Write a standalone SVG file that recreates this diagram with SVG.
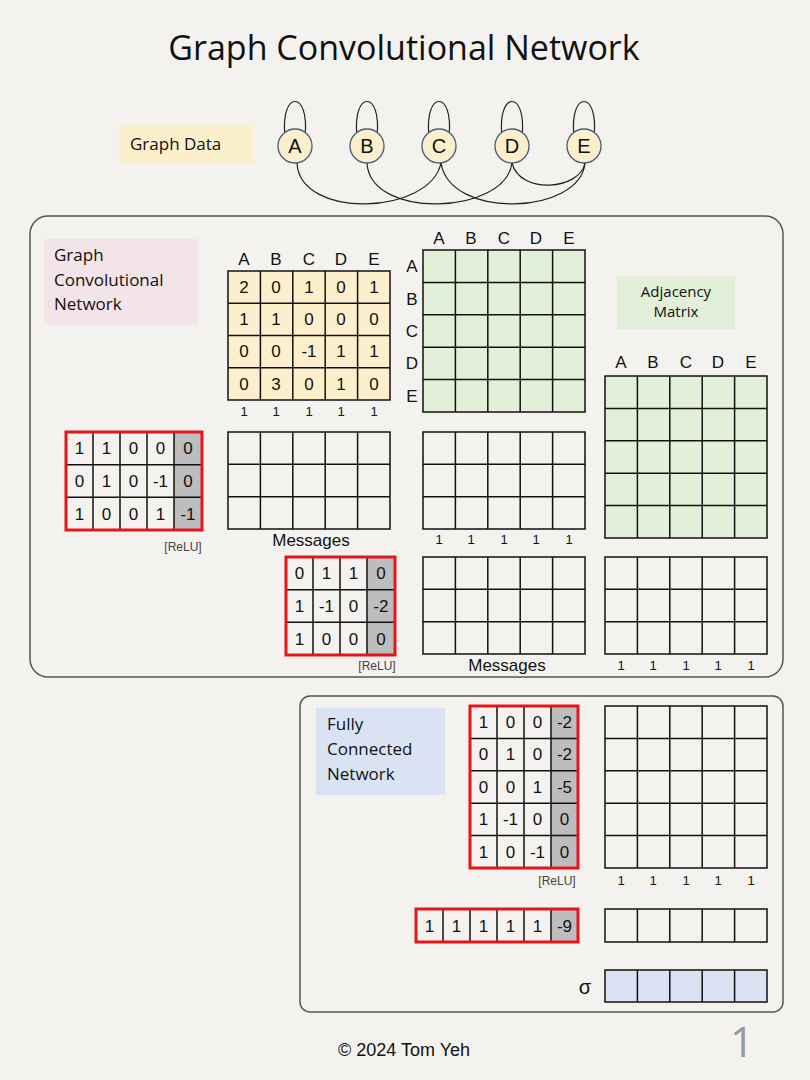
<svg xmlns="http://www.w3.org/2000/svg" width="810" height="1080" viewBox="0 0 810 1080">
<defs><style>
text{font-family:"Liberation Sans",Arial,sans-serif;fill:#111;text-anchor:middle}
.hand{font-family:"Open Sans","Liberation Sans",sans-serif;text-anchor:start}
.c{font-size:17px}
.s{font-size:13px}
.relu{font-size:12px;fill:#444}
.g{fill:none;stroke:#111;stroke-width:1.5}
.red{fill:none;stroke:#e8141b;stroke-width:3}
.box{fill:none;stroke:#555;stroke-width:1.5}
.edge{fill:none;stroke:#222;stroke-width:1.2}
</style></defs>
<rect width="810" height="1080" fill="#f4f2ee"/>
<text x="404" y="60" style="font-family:'Open Sans',sans-serif;font-size:34px">Graph Convolutional Network</text>

<g id="graph-label"><rect x="119" y="126" width="135" height="38" fill="#fcf0cc"/><text class="hand" x="130" y="150" style="font-size:17px">Graph Data</text></g>
<g id="connectors">
<path class="edge" d="M285,136 C280,90 310,90 305,136"/>
<path class="edge" d="M357,136 C352,90 382,90 377,136"/>
<path class="edge" d="M429,136 C424,90 454,90 449,136"/>
<path class="edge" d="M502,136 C497,90 527,90 522,136"/>
<path class="edge" d="M574,136 C569,90 599,90 594,136"/>
<path class="edge" d="M297,163 C300,220 430,215 441,163"/>
<path class="edge" d="M367,163 C370,220 505,215 512,163"/>
<path class="edge" d="M441,163 C450,220 580,215 585,163"/>
<path class="edge" d="M512,163 C520,195 580,190 585,163"/>
</g>
<g id="nodeA"><circle cx="295" cy="146" r="17" fill="#fcf0cc" stroke="#4a5a7a" stroke-width="1.3"/><text x="295" y="153" style="font-size:20px">A</text></g>
<g id="nodeB"><circle cx="367" cy="146" r="17" fill="#fcf0cc" stroke="#4a5a7a" stroke-width="1.3"/><text x="367" y="153" style="font-size:20px">B</text></g>
<g id="nodeC"><circle cx="439" cy="146" r="17" fill="#fcf0cc" stroke="#4a5a7a" stroke-width="1.3"/><text x="439" y="153" style="font-size:20px">C</text></g>
<g id="nodeD"><circle cx="512" cy="146" r="17" fill="#fcf0cc" stroke="#4a5a7a" stroke-width="1.3"/><text x="512" y="153" style="font-size:20px">D</text></g>
<g id="nodeE"><circle cx="584" cy="146" r="17" fill="#fcf0cc" stroke="#4a5a7a" stroke-width="1.3"/><text x="584" y="153" style="font-size:20px">E</text></g>

<g id="gcn-panel">
<rect class="box" x="30" y="216" width="753" height="461" rx="18"/>
<rect x="44" y="239" width="153" height="86" fill="#f2e4e8"/>
<text class="hand" x="54" y="261" style="font-size:17px">Graph</text>
<text class="hand" x="54" y="286" style="font-size:17px">Convolutional</text>
<text class="hand" x="54" y="310" style="font-size:17px">Network</text>
</g>

<g id="features">
<g class="c"><text x="244" y="265">A</text><text x="276" y="265">B</text><text x="309" y="265">C</text><text x="341" y="265">D</text><text x="374" y="265">E</text></g>
<rect x="228" y="271" width="162" height="129" fill="#fcf0cc"/>
<path class="g" d="M228,271h162v129h-162z M260.4,271v129 M292.8,271v129 M325.2,271v129 M357.6,271v129 M228,303.25h162 M228,335.5h162 M228,367.75h162"/>
<g class="c">
<text x="244" y="293">2</text><text x="276" y="293">0</text><text x="309" y="293">1</text><text x="341" y="293">0</text><text x="374" y="293">1</text>
<text x="244" y="325">1</text><text x="276" y="325">1</text><text x="309" y="325">0</text><text x="341" y="325">0</text><text x="374" y="325">0</text>
<text x="244" y="357">0</text><text x="276" y="357">0</text><text x="309" y="357">-1</text><text x="341" y="357">1</text><text x="374" y="357">1</text>
<text x="244" y="390">0</text><text x="276" y="390">3</text><text x="309" y="390">0</text><text x="341" y="390">1</text><text x="374" y="390">0</text>
</g>
<g class="s"><text x="244" y="416">1</text><text x="276" y="416">1</text><text x="309" y="416">1</text><text x="341" y="416">1</text><text x="374" y="416">1</text></g>
</g>

<g id="adjacency1">
<g class="c"><text x="439" y="244">A</text><text x="471" y="244">B</text><text x="504" y="244">C</text><text x="536" y="244">D</text><text x="569" y="244">E</text>
<text x="412" y="272">A</text><text x="412" y="305">B</text><text x="412" y="337">C</text><text x="412" y="369">D</text><text x="412" y="402">E</text></g>
<rect x="423" y="250" width="162" height="162" fill="#e2efd9"/>
<path class="g" d="M423,250h162v162h-162z M455.4,250v162 M487.8,250v162 M520.2,250v162 M552.6,250v162 M423,282.4h162 M423,314.8h162 M423,347.2h162 M423,379.6h162"/>
</g>

<g id="adjacency-label"><rect x="617" y="276" width="118" height="53" fill="#e2efd9"/>
<text x="676" y="297" style="font-family:'Open Sans',sans-serif;font-size:15px">Adjacency</text>
<text x="676" y="317" style="font-family:'Open Sans',sans-serif;font-size:15px">Matrix</text></g>

<g id="adjacency2">
<g class="c"><text x="621" y="368">A</text><text x="653" y="368">B</text><text x="686" y="368">C</text><text x="718" y="368">D</text><text x="751" y="368">E</text></g>
<rect x="605" y="376" width="162" height="162" fill="#e2efd9"/>
<path class="g" d="M605,376h162v162h-162z M637.4,376v162 M669.8,376v162 M702.2,376v162 M734.6,376v162 M605,408.4h162 M605,440.8h162 M605,473.2h162 M605,505.6h162"/>
</g>

<g id="weights1">
<rect x="174" y="432" width="28" height="98" fill="#bdbdbd"/>
<path class="g" d="M93,432v98 M120,432v98 M147,432v98 M174,432v98 M66,464.7h136 M66,497.3h136"/>
<rect class="red" x="66" y="432" width="136" height="98"/>
<g class="c">
<text x="79.5" y="454">1</text><text x="106.5" y="454">1</text><text x="133.5" y="454">0</text><text x="160.5" y="454">0</text><text x="188" y="454">0</text>
<text x="79.5" y="487">0</text><text x="106.5" y="487">1</text><text x="133.5" y="487">0</text><text x="160.5" y="487">-1</text><text x="188" y="487">0</text>
<text x="79.5" y="520">1</text><text x="106.5" y="520">0</text><text x="133.5" y="520">0</text><text x="160.5" y="520">1</text><text x="188" y="520">-1</text>
</g>
<text class="relu" x="183" y="551">[ReLU]</text>
</g>

<g id="messages1">
<path class="g" d="M228,432h162v97h-162z M260.4,432v97 M292.8,432v97 M325.2,432v97 M357.6,432v97 M228,464.3h162 M228,496.7h162"/>
<text x="311" y="546" style="font-size:17px">Messages</text>
</g>

<g id="hidden1">
<path class="g" d="M423,432h162v97h-162z M455.4,432v97 M487.8,432v97 M520.2,432v97 M552.6,432v97 M423,464.3h162 M423,496.7h162"/>
<g class="s"><text x="439" y="544">1</text><text x="471" y="544">1</text><text x="504" y="544">1</text><text x="536" y="544">1</text><text x="569" y="544">1</text></g>
</g>

<g id="weights2">
<rect x="367" y="557" width="28" height="98" fill="#bdbdbd"/>
<path class="g" d="M313,557v98 M340,557v98 M367,557v98 M286,589.7h109 M286,622.3h109"/>
<rect class="red" x="286" y="557" width="109" height="98"/>
<g class="c">
<text x="299.5" y="579">0</text><text x="326.5" y="579">1</text><text x="353.5" y="579">1</text><text x="381" y="579">0</text>
<text x="299.5" y="612">1</text><text x="326.5" y="612">-1</text><text x="353.5" y="612">0</text><text x="381" y="612">-2</text>
<text x="299.5" y="645">1</text><text x="326.5" y="645">0</text><text x="353.5" y="645">0</text><text x="381" y="645">0</text>
</g>
<text class="relu" x="377" y="670">[ReLU]</text>
</g>

<g id="messages2">
<path class="g" d="M423,557h162v97h-162z M455.4,557v97 M487.8,557v97 M520.2,557v97 M552.6,557v97 M423,589.3h162 M423,621.7h162"/>
<text x="507" y="671" style="font-size:17px">Messages</text>
</g>

<g id="hidden2">
<path class="g" d="M605,557h162v97h-162z M637.4,557v97 M669.8,557v97 M702.2,557v97 M734.6,557v97 M605,589.3h162 M605,621.7h162"/>
<g class="s"><text x="621" y="670">1</text><text x="653" y="670">1</text><text x="686" y="670">1</text><text x="718" y="670">1</text><text x="751" y="670">1</text></g>
</g>

<g id="fcn-panel">
<rect class="box" x="300" y="696" width="483" height="316" rx="10"/>
<rect x="316" y="708" width="129" height="87" fill="#dae3f3"/>
<text class="hand" x="327" y="730" style="font-size:17px">Fully</text>
<text class="hand" x="327" y="755" style="font-size:17px">Connected</text>
<text class="hand" x="327" y="780" style="font-size:17px">Network</text>
</g>

<g id="weights3">
<rect x="551" y="706" width="27" height="162" fill="#bdbdbd"/>
<path class="g" d="M497,706v162 M524,706v162 M551,706v162 M470,738.4h108 M470,770.8h108 M470,803.2h108 M470,835.6h108"/>
<rect class="red" x="470" y="706" width="108" height="162"/>
<g class="c">
<text x="483.5" y="728">1</text><text x="510.5" y="728">0</text><text x="537.5" y="728">0</text><text x="564.5" y="728">-2</text>
<text x="483.5" y="760">0</text><text x="510.5" y="760">1</text><text x="537.5" y="760">0</text><text x="564.5" y="760">-2</text>
<text x="483.5" y="793">0</text><text x="510.5" y="793">0</text><text x="537.5" y="793">1</text><text x="564.5" y="793">-5</text>
<text x="483.5" y="825">1</text><text x="510.5" y="825">-1</text><text x="537.5" y="825">0</text><text x="564.5" y="825">0</text>
<text x="483.5" y="858">1</text><text x="510.5" y="858">0</text><text x="537.5" y="858">-1</text><text x="564.5" y="858">0</text>
</g>
<text class="relu" x="557" y="885">[ReLU]</text>
</g>

<g id="hidden3">
<path class="g" d="M605,706h162v162h-162z M637.4,706v162 M669.8,706v162 M702.2,706v162 M734.6,706v162 M605,738.4h162 M605,770.8h162 M605,803.2h162 M605,835.6h162"/>
<g class="s"><text x="621" y="885">1</text><text x="653" y="885">1</text><text x="686" y="885">1</text><text x="718" y="885">1</text><text x="751" y="885">1</text></g>
</g>

<g id="weights4">
<rect x="551" y="909" width="27" height="33" fill="#bdbdbd"/>
<path class="g" d="M443,909v33 M470,909v33 M497,909v33 M524,909v33 M551,909v33"/>
<rect class="red" x="416" y="909" width="162" height="33"/>
<g class="c"><text x="429.5" y="932">1</text><text x="456.5" y="932">1</text><text x="483.5" y="932">1</text><text x="510.5" y="932">1</text><text x="537.5" y="932">1</text><text x="564.5" y="932">-9</text></g>
</g>

<g id="output-pre">
<path class="g" d="M605,909h162v33h-162z M637.4,909v33 M669.8,909v33 M702.2,909v33 M734.6,909v33"/>
</g>

<g id="output">
<text x="585" y="994" style="font-size:20px">σ</text>
<rect x="605" y="970" width="162" height="32" fill="#dae3f3"/>
<path class="g" d="M605,970h162v32h-162z M637.4,970v32 M669.8,970v32 M702.2,970v32 M734.6,970v32"/>
</g>

<text x="404" y="1056" style="font-size:18px">©  2024 Tom Yeh</text>
<text x="742" y="1057" style="font-size:42px;fill:#999;font-family:'Open Sans',sans-serif">1</text>
</svg>
